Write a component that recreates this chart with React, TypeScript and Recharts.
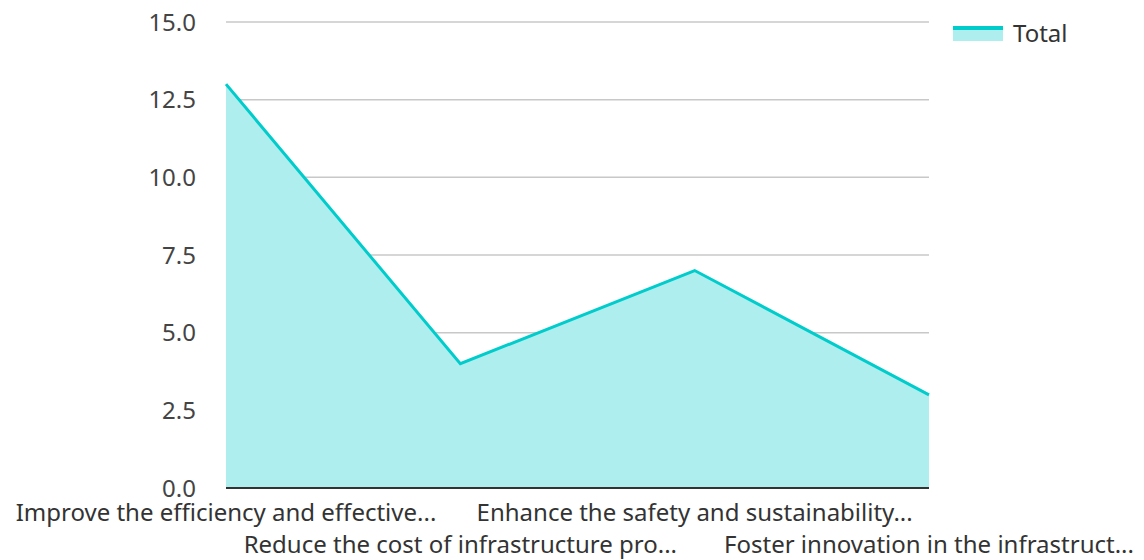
import { Area, AreaChart, CartesianGrid, Legend, XAxis, YAxis } from "recharts";

const goals = [
  "Improve the efficiency and effective...",
  "Reduce the cost of infrastructure pro...",
  "Enhance the safety and sustainability...",
  "Foster innovation in the infrastruct...",
];
const totals = [13, 4, 7, 3];
const yTicks = [0, 2.5, 5, 7.5, 10, 12.5, 15];

const data = goals.map((goal, i) => ({ goal, Total: totals[i] }));

const FONT = "'Noto Sans', 'Open Sans', sans-serif";
const LINE = "#00cccc";
const FILL = "#afeeee";

function GoalTick({ x, y, payload, index }: any) {
  const row = index % 2;
  return (
    <text
      x={x}
      y={y + 25 + row * 32}
      textAnchor="middle"
      fill="#333"
      fontSize={24}
      fontFamily={FONT}
    >
      {payload.value}
    </text>
  );
}

function TotalLegend() {
  return (
    <div style={{ display: "flex", alignItems: "center", fontFamily: FONT, fontSize: 24, color: "#333" }}>
      <svg width={50} height={16} style={{ marginRight: 10 }}>
        <rect x={0} y={2} width={50} height={14} fill={FILL} />
        <line x1={0} x2={50} y1={3} y2={3} stroke={LINE} strokeWidth={4} />
      </svg>
      <span>Total</span>
    </div>
  );
}

export default function App() {
  return (
    <div style={{ position: "absolute", left: 0, top: 0 }}>
      <AreaChart
        width={1144}
        height={560}
        data={data}
        margin={{ top: 22, right: 215, bottom: 0, left: 0 }}
      >
        <CartesianGrid vertical={false} stroke="#c8c8c8" strokeWidth={1.5} />
        <XAxis
          dataKey="goal"
          height={72}
          interval={0}
          tick={<GoalTick />}
          tickLine={false}
          axisLine={{ stroke: "#333", strokeWidth: 2 }}
        />
        <YAxis
          width={226}
          domain={[0, 15]}
          ticks={yTicks}
          tickFormatter={(v: number) => v.toFixed(1)}
          axisLine={false}
          tickLine={false}
          tickMargin={24}
          tick={{ fontSize: 24, fill: "#444", fontFamily: FONT }}
        />
        <Legend
          content={<TotalLegend />}
          verticalAlign="middle"
          align="center"
          wrapperStyle={{ top: 16, left: 953, width: 150 }}
        />
        <Area
          type="linear"
          dataKey="Total"
          stroke={LINE}
          strokeWidth={3}
          fill={FILL}
          fillOpacity={1}
          dot={false}
          activeDot={false}
          isAnimationActive={false}
        />
      </AreaChart>
    </div>
  );
}
